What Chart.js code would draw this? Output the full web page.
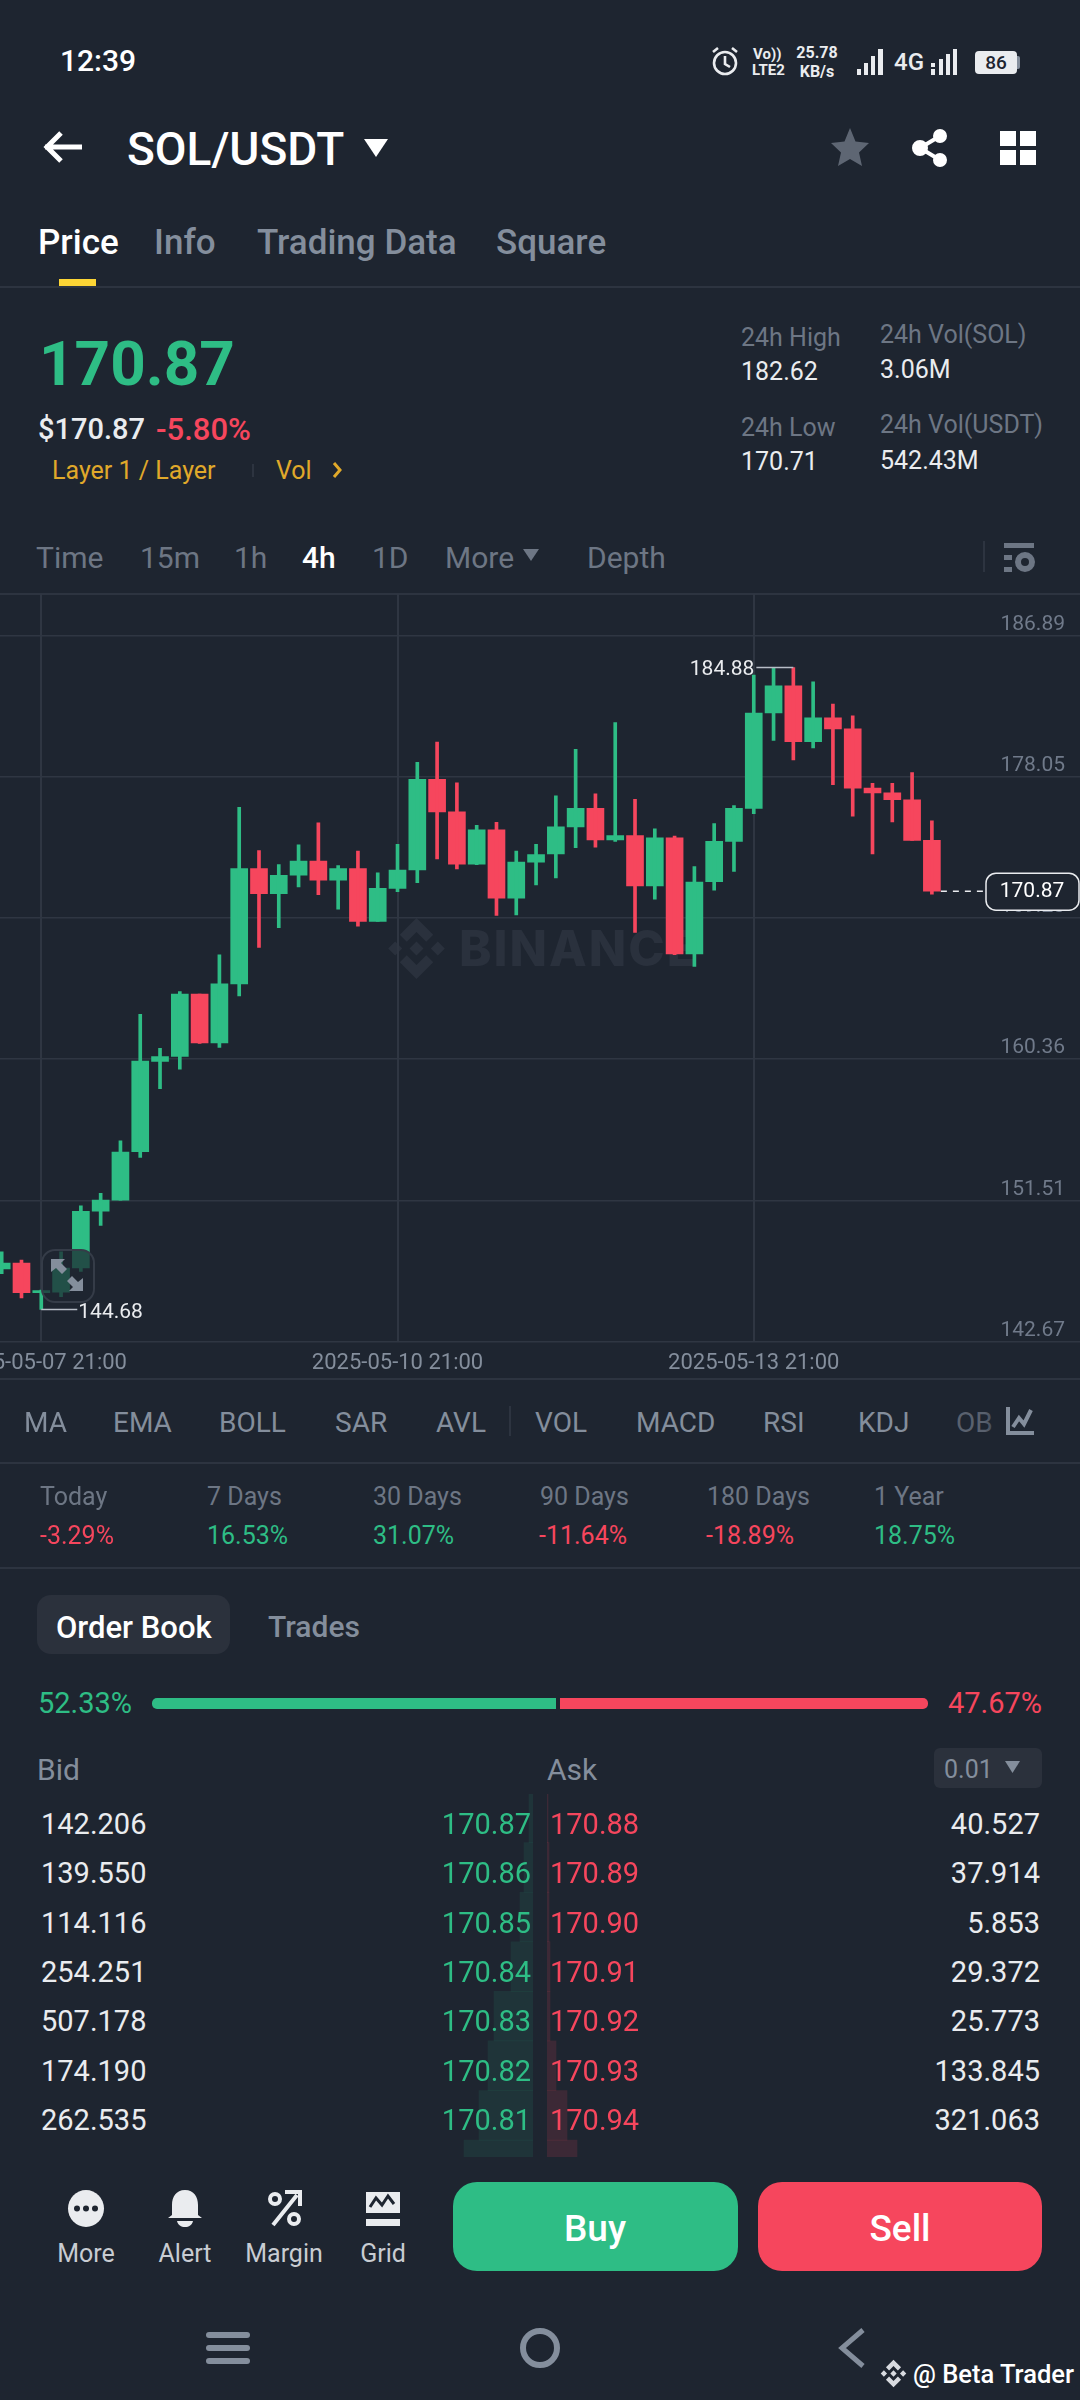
<!DOCTYPE html>
<html>
<head>
<meta charset="utf-8">
<title>SOL/USDT</title>
<script src="https://cdn.jsdelivr.net/npm/chart.js@4"></script>
<style>
  html, body { margin: 0; padding: 0; background: #1e2530; }
  body { position: relative; width: 1080px; height: 2400px; overflow: hidden; font-family: Roboto, sans-serif; color: #eaecef; }
  .t { position: absolute; transform: translateY(-50%); white-space: nowrap; line-height: 1; }
  .r { transform: translate(-100%, -50%); }
  .c { transform: translate(-50%, -50%); }
  .grey { color: #848e9c; }
  .dim { color: #6d7684; }
  .green { color: #2ebd85; }
  .red { color: #f6465d; }
  .yel { color: #e0a92a; }
  .line { position: absolute; left: 0; width: 1080px; height: 2px; background: #2d3440; }
  .box { position: absolute; }
  svg { position: absolute; overflow: visible; }
  canvas { position: absolute; }
  .s25 { font-size: 25px; } .s28 { font-size: 28px; } .s29 { font-size: 29px; } .s30 { font-size: 30px; } .s35 { font-size: 35px; }
</style>
</head>
<body>

<!-- status bar -->
<div class="t" style="left:60px;top:61px;font-size:30px;font-weight:500;color:#fff">12:39</div>
<svg style="left:711px;top:46px" width="28" height="30" viewBox="0 0 28 30" fill="none" stroke="#eaecef" stroke-width="2.6"><circle cx="14" cy="17" r="11"/><path d="M14 10v8l5 3M2 6l5-4M26 6l-5-4"/></svg>
<div class="t" style="left:753px;top:54px;font-size:15px;font-weight:700">Vo))</div>
<div class="t" style="left:752px;top:70px;font-size:15px;font-weight:700">LTE2</div>
<div class="t c" style="left:817px;top:53px;font-size:16px;font-weight:700">25.78</div>
<div class="t c" style="left:817px;top:72px;font-size:16px;font-weight:700">KB/s</div>
<svg style="left:857px;top:49px" width="30" height="26" fill="#eaecef"><rect x="0" y="20" width="4" height="6"/><rect x="7" y="14" width="4" height="12"/><rect x="14" y="7" width="4" height="19"/><rect x="21" y="0" width="5" height="26"/></svg>
<div class="t" style="left:894px;top:62px;font-size:24px;font-weight:500">4G</div>
<svg style="left:930px;top:49px" width="30" height="26" fill="#eaecef"><rect x="1" y="14" width="4" height="4"/><rect x="1" y="20" width="4" height="6"/><rect x="9" y="10" width="4" height="16"/><rect x="16" y="5" width="4" height="21"/><rect x="23" y="0" width="4" height="26"/></svg>
<div class="box" style="left:975px;top:51px;width:42px;height:23px;background:#eaecef;border-radius:4px"></div>
<div class="box" style="left:1017px;top:56px;width:3px;height:13px;background:#848e9c;border-radius:0 2px 2px 0"></div>
<div class="t c" style="left:996px;top:62px;font-size:19px;font-weight:500;color:#1e2530">86</div>

<!-- header -->
<svg style="left:43px;top:131px" width="40" height="32" fill="none" stroke="#fff" stroke-width="5"><path d="M2 16h37M18 2L4 16l14 14"/></svg>
<div class="t" style="left:127px;top:149px;font-size:46px;font-weight:500;color:#fff">SOL/USDT</div>
<svg style="left:364px;top:139px" width="24" height="18" fill="#fff"><path d="M0 0h24L12 18z"/></svg>
<svg style="left:831px;top:128px" width="38" height="38" fill="#5e6673"><path d="M19 0l5.500 13.500L38 15l-10 9.500L31 38 19 31 7 38l3-13.500L0 15l13.500-1.500z"/></svg>
<svg style="left:911px;top:129px" width="38" height="38" fill="#fff" stroke="#fff" stroke-width="4"><path d="M29 7L9 19l20 12" fill="none"/><circle cx="29" cy="7" r="5"/><circle cx="9" cy="19" r="6"/><circle cx="29" cy="31" r="5"/></svg>
<svg style="left:1000px;top:131px" width="36" height="34" fill="#fff"><rect width="16" height="15"/><rect x="20" width="16" height="15"/><rect y="19" width="16" height="15"/><rect x="20" y="19" width="16" height="15"/></svg>

<!-- tabs -->
<div class="t s35" style="left:38px;top:242px;font-weight:500;color:#fff">Price</div>
<div class="t s35 grey" style="left:154px;top:242px;font-weight:500">Info</div>
<div class="t s35 grey" style="left:257px;top:242px;font-weight:500">Trading Data</div>
<div class="t s35 grey" style="left:496px;top:242px;font-weight:500">Square</div>
<div class="box" style="left:59px;top:279px;width:37px;height:7px;background:#fcd535"></div>
<div class="line" style="top:286px"></div>

<!-- price block -->
<div class="t green" style="left:39px;top:364px;font-size:62px;font-weight:700">170.87</div>
<div class="t" style="left:38px;top:429px;font-size:29px;font-weight:500">$170.87</div>
<div class="t red" style="left:156px;top:429px;font-size:31px;font-weight:500">-5.80%</div>
<div class="t yel s25" style="left:52px;top:470px">Layer 1 / Layer</div>
<div class="box" style="left:252px;top:464px;width:2px;height:13px;background:#2d3440"></div>
<div class="t yel s25" style="left:276px;top:470px">Vol</div>
<svg style="left:332px;top:461px" width="10" height="18" fill="none" stroke="#e0a92a" stroke-width="3"><path d="M2 2l6 7-6 7"/></svg>

<div class="t dim s25" style="left:741px;top:337px">24h High</div>
<div class="t s25" style="left:741px;top:371px">182.62</div>
<div class="t dim s25" style="left:880px;top:334px">24h Vol(SOL)</div>
<div class="t s25" style="left:880px;top:369px">3.06M</div>
<div class="t dim s25" style="left:741px;top:427px">24h Low</div>
<div class="t s25" style="left:741px;top:461px">170.71</div>
<div class="t dim s25" style="left:880px;top:424px">24h Vol(USDT)</div>
<div class="t s25" style="left:880px;top:460px">542.43M</div>

<!-- intervals -->
<div class="t s30 dim" style="left:36px;top:558px">Time</div>
<div class="t s30 dim" style="left:140px;top:558px">15m</div>
<div class="t s30 dim" style="left:234px;top:558px">1h</div>
<div class="t s30" style="left:302px;top:558px;font-weight:500;color:#fff">4h</div>
<div class="t s30 dim" style="left:372px;top:558px">1D</div>
<div class="t s30 dim" style="left:445px;top:558px">More</div>
<svg style="left:523px;top:549px" width="16" height="12" fill="#6d7684"><path d="M0 0h16L8 12z"/></svg>
<div class="t s30 dim" style="left:587px;top:558px">Depth</div>
<div class="box" style="left:983px;top:541px;width:2px;height:31px;background:#2d3440"></div>
<svg style="left:1004px;top:541px" width="32" height="32" fill="#6d7684"><rect width="30" height="5" y="2"/><rect y="14" width="8" height="5"/><rect y="26" width="8" height="5"/><circle cx="21" cy="21" r="7" fill="none" stroke="#6d7684" stroke-width="6"/></svg>
<div class="line" style="top:593px"></div>

<!-- watermark sits under the transparent chart canvas -->
<svg style="left:380px;top:912px" width="73" height="73" viewBox="0 0 24 24" fill="#2a313d"><path d="M12 2l5.500 5.500-2.300 2.300L12 6.600 8.800 9.800 6.500 7.500zM12 22l5.500-5.500-2.300-2.300L12 17.400l-3.200-3.200-2.300 2.300zM2.700 12L5 9.700 7.300 12 5 14.300zM21.300 12L19 9.700 16.700 12l2.300 2.300zM12 9.700l2.300 2.300-2.300 2.300L9.700 12z"/></svg>
<div class="t" style="left:459px;top:948px;font-family:Inter,sans-serif;font-size:49px;font-weight:800;letter-spacing:2px;color:#2a313d">BINANCE</div>

<canvas id="priceChart" width="1080" height="785" style="left:0;top:594px"></canvas>

<!-- expand button on top of the chart -->
<div class="box" style="left:41px;top:1249px;width:50px;height:50px;border:2px solid #353c48;border-radius:14px;background:rgba(30,37,48,0.72)"></div>
<svg style="left:51px;top:1259px" width="32" height="32" fill="#848e9c"><path d="M0 0h14l-4 4 6 6-5 5-6-6-5 4zM32 32H18l4-4-6-6 5-5 6 6 5-4z"/></svg>

<div class="line" style="top:1378px"></div>

<!-- indicators -->
<div class="t s28 grey" style="left:24px;top:1423px">MA</div>
<div class="t s28 grey" style="left:113px;top:1423px">EMA</div>
<div class="t s28 grey" style="left:219px;top:1423px">BOLL</div>
<div class="t s28 grey" style="left:335px;top:1423px">SAR</div>
<div class="t s28 grey" style="left:436px;top:1423px">AVL</div>
<div class="box" style="left:509px;top:1406px;width:2px;height:30px;background:#2d3440"></div>
<div class="t s28 grey" style="left:535px;top:1423px">VOL</div>
<div class="t s28 grey" style="left:636px;top:1423px">MACD</div>
<div class="t s28 grey" style="left:763px;top:1423px">RSI</div>
<div class="t s28 grey" style="left:858px;top:1423px">KDJ</div>
<div class="t s28" style="left:956px;top:1423px;color:#59616e">OB</div>
<div class="box" style="left:985px;top:1405px;width:48px;height:36px;background:linear-gradient(90deg,rgba(30,37,48,0),#1e2530 45%)"></div>
<svg style="left:1006px;top:1407px" width="28" height="28" fill="none" stroke="#848e9c" stroke-width="4"><path d="M2 0v26h26M7 20l6-9 5 6 7-14"/></svg>
<div class="line" style="top:1462px"></div>

<!-- returns -->
<div class="t s25 dim" style="left:40px;top:1496px">Today</div>
<div class="t s25 dim" style="left:207px;top:1496px">7 Days</div>
<div class="t s25 dim" style="left:373px;top:1496px">30 Days</div>
<div class="t s25 dim" style="left:540px;top:1496px">90 Days</div>
<div class="t s25 dim" style="left:707px;top:1496px">180 Days</div>
<div class="t s25 dim" style="left:874px;top:1496px">1 Year</div>
<div class="t s25 red" style="left:40px;top:1535px">-3.29%</div>
<div class="t s25 green" style="left:207px;top:1535px">16.53%</div>
<div class="t s25 green" style="left:373px;top:1535px">31.07%</div>
<div class="t s25 red" style="left:539px;top:1535px">-11.64%</div>
<div class="t s25 red" style="left:706px;top:1535px">-18.89%</div>
<div class="t s25 green" style="left:874px;top:1535px">18.75%</div>
<div class="line" style="top:1567px"></div>

<!-- order book header -->
<div class="box" style="left:37px;top:1595px;width:193px;height:59px;background:#2b313c;border-radius:14px"></div>
<div class="t" style="left:56px;top:1627px;font-size:31px;font-weight:500;color:#fff">Order Book</div>
<div class="t grey" style="left:268px;top:1627px;font-size:30px;font-weight:500">Trades</div>
<div class="t s29 green" style="left:38px;top:1703px">52.33%</div>
<div class="box" style="left:152px;top:1698px;width:404px;height:11px;background:#2ebd85;border-radius:5px 0 0 5px"></div>
<div class="box" style="left:560px;top:1698px;width:368px;height:11px;background:#f6465d;border-radius:0 5px 5px 0"></div>
<div class="t s29 red" style="left:948px;top:1703px">47.67%</div>
<div class="t s30 grey" style="left:37px;top:1770px">Bid</div>
<div class="t s30 grey" style="left:547px;top:1770px">Ask</div>
<div class="box" style="left:934px;top:1748px;width:108px;height:40px;background:#2b313c;border-radius:6px"></div>
<div class="t s25 grey" style="left:944px;top:1769px">0.01</div>
<svg style="left:1005px;top:1761px" width="15" height="12" fill="#848e9c"><path d="M0 0h15L7.500 12z"/></svg>

<!-- depth shading behind the rows -->
<canvas id="bidDepth" width="100" height="363" style="left:433px;top:1794px"></canvas>
<canvas id="askDepth" width="100" height="363" style="left:547px;top:1794px"></canvas>
<div id="book"></div>

<!-- bottom actions -->
<svg style="left:68px;top:2190px" width="36" height="37" fill="#eaecef"><ellipse cx="18" cy="18.500" rx="18" ry="18.500"/><circle cx="9" cy="18.500" r="3" fill="#1e2530"/><circle cx="18" cy="18.500" r="3" fill="#1e2530"/><circle cx="27" cy="18.500" r="3" fill="#1e2530"/></svg>
<svg style="left:168px;top:2190px" width="34" height="37" fill="#eaecef"><path d="M17 0c9 0 13 7 13 15v10l4 3H0l4-3V15C4 7 8 0 17 0z"/><path d="M9 31h16c-1 4-4 6-8 6s-7-2-8-6z"/></svg>
<svg style="left:267px;top:2190px" width="34" height="37" fill="none" stroke="#eaecef" stroke-width="4"><path d="M6 35L30 5M18 2h15v14"/><circle cx="8" cy="9" r="5"/><circle cx="27" cy="29" r="5"/></svg>
<svg style="left:366px;top:2192px" width="34" height="35" fill="#eaecef"><path d="M0 0h34v21H0z"/><rect y="27" width="34" height="7"/><path d="M4 15l6-9 6 7 6-9 6 8" fill="none" stroke="#1e2530" stroke-width="3"/></svg>
<div class="t c s25" style="left:86px;top:2253px;color:#c8ccd2">More</div>
<div class="t c s25" style="left:185px;top:2253px;color:#c8ccd2">Alert</div>
<div class="t c s25" style="left:284px;top:2253px;color:#c8ccd2">Margin</div>
<div class="t c s25" style="left:383px;top:2253px;color:#c8ccd2">Grid</div>
<div class="box" style="left:453px;top:2182px;width:285px;height:89px;background:#2ebd85;border-radius:24px"></div>
<div class="t c" style="left:595px;top:2228px;font-size:37px;font-weight:500;color:#fff">Buy</div>
<div class="box" style="left:758px;top:2182px;width:284px;height:89px;background:#f6465d;border-radius:24px"></div>
<div class="t c" style="left:900px;top:2228px;font-size:37px;font-weight:500;color:#fff">Sell</div>

<!-- nav bar -->
<svg style="left:206px;top:2332px" width="44" height="32" fill="#848e9c"><rect width="44" height="6" rx="3"/><rect y="13" width="44" height="6" rx="3"/><rect y="26" width="44" height="6" rx="3"/></svg>
<svg style="left:520px;top:2328px" width="40" height="40" fill="none" stroke="#848e9c" stroke-width="6"><circle cx="20" cy="20" r="17"/></svg>
<svg style="left:838px;top:2329px" width="28" height="38" fill="none" stroke="#848e9c" stroke-width="5"><path d="M25 1L4 19l21 18"/></svg>
<svg style="left:877px;top:2357px" width="33" height="33" viewBox="0 0 24 24" fill="#d8dbe0"><path d="M12 2l5.500 5.500-2.300 2.300L12 6.600 8.800 9.800 6.500 7.500zM12 22l5.500-5.500-2.300-2.300L12 17.400l-3.200-3.200-2.300 2.300zM2.700 12L5 9.700 7.300 12 5 14.300zM21.300 12L19 9.700 16.700 12l2.300 2.300zM12 9.700l2.300 2.300-2.300 2.300L9.700 12z"/></svg>
<div class="t" style="left:913px;top:2375px;font-size:25.500px;font-weight:500;color:#fff">@ Beta Trader</div>

<script>
// 4h candles
const candleTimes = [
    "2025-05-07 13:00", "2025-05-07 17:00", "2025-05-07 21:00", "2025-05-08 01:00", "2025-05-08 05:00", "2025-05-08 09:00",
    "2025-05-08 13:00", "2025-05-08 17:00", "2025-05-08 21:00", "2025-05-09 01:00", "2025-05-09 05:00", "2025-05-09 09:00",
    "2025-05-09 13:00", "2025-05-09 17:00", "2025-05-09 21:00", "2025-05-10 01:00", "2025-05-10 05:00", "2025-05-10 09:00",
    "2025-05-10 13:00", "2025-05-10 17:00", "2025-05-10 21:00", "2025-05-11 01:00", "2025-05-11 05:00", "2025-05-11 09:00",
    "2025-05-11 13:00", "2025-05-11 17:00", "2025-05-11 21:00", "2025-05-12 01:00", "2025-05-12 05:00", "2025-05-12 09:00",
    "2025-05-12 13:00", "2025-05-12 17:00", "2025-05-12 21:00", "2025-05-13 01:00", "2025-05-13 05:00", "2025-05-13 09:00",
    "2025-05-13 13:00", "2025-05-13 17:00", "2025-05-13 21:00", "2025-05-14 01:00", "2025-05-14 05:00", "2025-05-14 09:00",
    "2025-05-14 13:00", "2025-05-14 17:00", "2025-05-14 21:00", "2025-05-15 01:00", "2025-05-15 05:00", "2025-05-15 09:00"
];
const openPrices = [
    147.22, 147.59, 145.74, 145.77, 147.28, 150.83, 151.53, 154.57, 160.21, 160.52, 164.43, 161.37,
    165.07, 172.29, 170.71, 171.87, 172.75, 171.56, 172.29, 168.98, 171.05, 172.20, 177.87, 175.84,
    172.57, 174.72, 170.44, 172.69, 173.20, 174.90, 176.06, 174.08, 174.36, 171.20, 174.21, 166.95,
    171.47, 173.99, 176.06, 182.03, 183.73, 180.24, 181.73, 181.03, 177.33, 177.03, 176.60, 174.05
];
const closePrices = [
    147.59, 145.74, 145.86, 147.28, 150.83, 151.53, 154.54, 160.24, 160.52, 164.43, 161.37, 165.07,
    172.29, 170.71, 171.87, 172.75, 171.56, 172.29, 168.98, 171.05, 172.20, 177.87, 175.84, 172.57,
    174.72, 170.44, 172.69, 173.17, 174.90, 176.06, 174.08, 174.36, 171.20, 174.21, 166.95, 171.44,
    173.99, 176.06, 182.03, 183.73, 180.24, 181.73, 181.03, 177.33, 177.03, 176.60, 174.05, 170.87
];
const highPrices = [
    148.29, 147.77, 145.90, 148.29, 151.17, 151.96, 155.24, 163.16, 161.03, 164.58, 164.43, 166.89,
    176.12, 173.41, 172.54, 173.78, 175.15, 172.47, 173.38, 172.02, 173.80, 178.94, 180.21, 177.66,
    174.99, 175.18, 173.38, 173.80, 176.85, 179.76, 176.97, 181.43, 176.63, 174.78, 174.32, 172.41,
    175.11, 176.24, 184.40, 184.86, 184.88, 183.98, 182.58, 181.85, 177.63, 177.63, 178.30, 175.27
];
const lowPrices = [
    146.92, 145.40, 144.68, 145.49, 147.07, 149.95, 151.53, 154.20, 158.51, 159.73, 161.34, 161.09,
    164.31, 167.35, 168.59, 171.14, 170.65, 169.74, 168.68, 168.98, 170.84, 171.41, 172.90, 172.26,
    172.54, 169.35, 169.38, 171.26, 171.71, 173.60, 173.63, 173.99, 168.29, 170.38, 166.89, 166.16,
    170.93, 172.11, 175.72, 180.31, 179.09, 179.85, 177.54, 175.57, 173.20, 175.21, 174.05, 170.68
];
const priceTicks = [186.89, 178.05, 169.20, 160.36, 151.51, 142.67];
const timeTickIndexes = [2, 20, 38];
const lastPrice = 170.87;

// order book rows
const bidAmounts = ["142.206", "139.550", "114.116", "254.251", "507.178", "174.190", "262.535"];
const bidPrices = ["170.87", "170.86", "170.85", "170.84", "170.83", "170.82", "170.81"];
const askPrices = ["170.88", "170.89", "170.90", "170.91", "170.92", "170.93", "170.94"];
const askAmounts = ["40.527", "37.914", "5.853", "29.372", "25.773", "133.845", "321.063"];
const bidDepth = [4, 9, 13, 22, 39, 45, 54, 69];
const askDepth = [1, 2, 2, 3, 3, 9, 20, 30];

const UP = "#2ebd85";
const DOWN = "#f6465d";
const GRID = "#2f3642";

const candleColors = openPrices.map((o, i) => closePrices[i] >= o ? UP : DOWN);

// high / low flags and the last price tag
const annotations = {
    id: "annotations",
    afterDraw(chart) {
        const { ctx, scales } = chart;
        const x = scales.x, y = scales.y;
        const high = Math.max(...highPrices);
        const low = Math.min(...lowPrices);
        const hx = x.getPixelForValue(highPrices.indexOf(high));
        const hy = y.getPixelForValue(high);
        const lx = x.getPixelForValue(lowPrices.indexOf(low));
        const ly = y.getPixelForValue(low);
        const px = x.getPixelForValue(closePrices.length - 1);
        const py = y.getPixelForValue(lastPrice);

        ctx.save();
        ctx.font = "21px Roboto";
        ctx.textBaseline = "middle";
        ctx.strokeStyle = "#b7bdc6";
        ctx.lineWidth = 1.5;
        ctx.fillStyle = "#eaecef";

        ctx.beginPath();
        ctx.moveTo(hx, hy);
        ctx.lineTo(hx - 37, hy);
        ctx.moveTo(lx, ly);
        ctx.lineTo(lx + 36, ly);
        ctx.stroke();
        ctx.textAlign = "right";
        ctx.fillText(high.toFixed(2), hx - 39, hy + 2);
        ctx.textAlign = "left";
        ctx.fillText(low.toFixed(2), lx + 37, ly + 3);

        // dashed line out to the tag
        ctx.strokeStyle = "#eaecef";
        ctx.setLineDash([6, 6]);
        ctx.beginPath();
        ctx.moveTo(px + 9, py);
        ctx.lineTo(986, py);
        ctx.stroke();
        ctx.setLineDash([]);

        ctx.beginPath();
        ctx.roundRect(986, py - 18, 93, 37, 10);
        ctx.fillStyle = "#1e2530";
        ctx.fill();
        ctx.stroke();
        ctx.fillStyle = "#fff";
        ctx.textAlign = "center";
        ctx.fillText(lastPrice.toFixed(2), 1032, py + 1);
        ctx.restore();
    }
};

new Chart(document.getElementById("priceChart"), {
    type: "bar",
    data: {
        datasets: [
            {
                label: "wick",
                data: lowPrices.map((l, i) => ({ x: i, y: [l, highPrices[i]] })),
                backgroundColor: candleColors,
                barThickness: 3,
                grouped: false
            },
            {
                label: "body",
                data: openPrices.map((o, i) => ({ x: i, y: [o, closePrices[i]] })),
                backgroundColor: candleColors,
                barThickness: 17,
                grouped: false
            }
        ]
    },
    plugins: [annotations],
    options: {
        responsive: false,
        animation: false,
        devicePixelRatio: 1,
        layout: { padding: 0 },
        plugins: { legend: { display: false }, tooltip: { enabled: false } },
        scales: {
            x: {
                type: "linear",
                offset: false,
                min: -0.086,
                max: 54.484,
                grid: { color: GRID, lineWidth: 2, drawTicks: false, offset: false },
                border: { display: false },
                afterBuildTicks: scale => { scale.ticks = timeTickIndexes.map(v => ({ value: v })); },
                afterFit: scale => { scale.paddingLeft = 0; scale.paddingRight = 0; scale.height = 37.4; },
                ticks: {
                    autoSkip: false,
                    maxRotation: 0,
                    padding: 9,
                    color: "#848e9c",
                    font: { family: "Roboto", size: 22 },
                    callback: value => candleTimes[value]
                }
            },
            y: {
                position: "right",
                min: 142.67,
                max: 189.48,
                grid: { color: GRID, lineWidth: 1.5, drawTicks: false },
                border: { display: false },
                afterBuildTicks: scale => { scale.ticks = priceTicks.map(v => ({ value: v })); },
                afterFit: scale => { scale.paddingTop = 0; scale.paddingBottom = 0; scale.width = 0; },
                ticks: {
                    mirror: true,
                    padding: -15,
                    labelOffset: -11,
                    color: "#707a8a",
                    font: { family: "Roboto", size: 21 },
                    callback: value => value.toFixed(2)
                }
            }
        }
    }
});

// faint depth bars, bids grow left and asks grow right
function depthChart(id, values, color, reverse) {
    new Chart(document.getElementById(id), {
        type: "bar",
        data: {
            datasets: [{
                data: values.map((v, i) => ({ x: v, y: i })),
                backgroundColor: color,
                barThickness: 49.6
            }]
        },
        options: {
            indexAxis: "y",
            responsive: false,
            animation: false,
            devicePixelRatio: 1,
            plugins: { legend: { display: false }, tooltip: { enabled: false } },
            scales: {
                x: { type: "linear", display: false, min: 0, max: 100, reverse: reverse },
                y: { type: "linear", display: false, offset: false, min: -0.48, max: 6.84, reverse: true }
            }
        }
    });
}
depthChart("bidDepth", bidDepth, "rgba(46,189,133,0.1)", true);
depthChart("askDepth", askDepth, "rgba(246,70,93,0.14)", false);

// order book rows
let rows = "";
for (let i = 0; i < bidPrices.length; i++) {
    const top = 1824 + i * 49.3;
    rows += `<div class="t s29" style="left:41px;top:${top}px">${bidAmounts[i]}</div>`;
    rows += `<div class="t r s29 green" style="left:531px;top:${top}px">${bidPrices[i]}</div>`;
    rows += `<div class="t s29 red" style="left:550px;top:${top}px">${askPrices[i]}</div>`;
    rows += `<div class="t r s29" style="left:1040px;top:${top}px">${askAmounts[i]}</div>`;
}
document.getElementById("book").innerHTML = rows;
</script>
</body>
</html>
